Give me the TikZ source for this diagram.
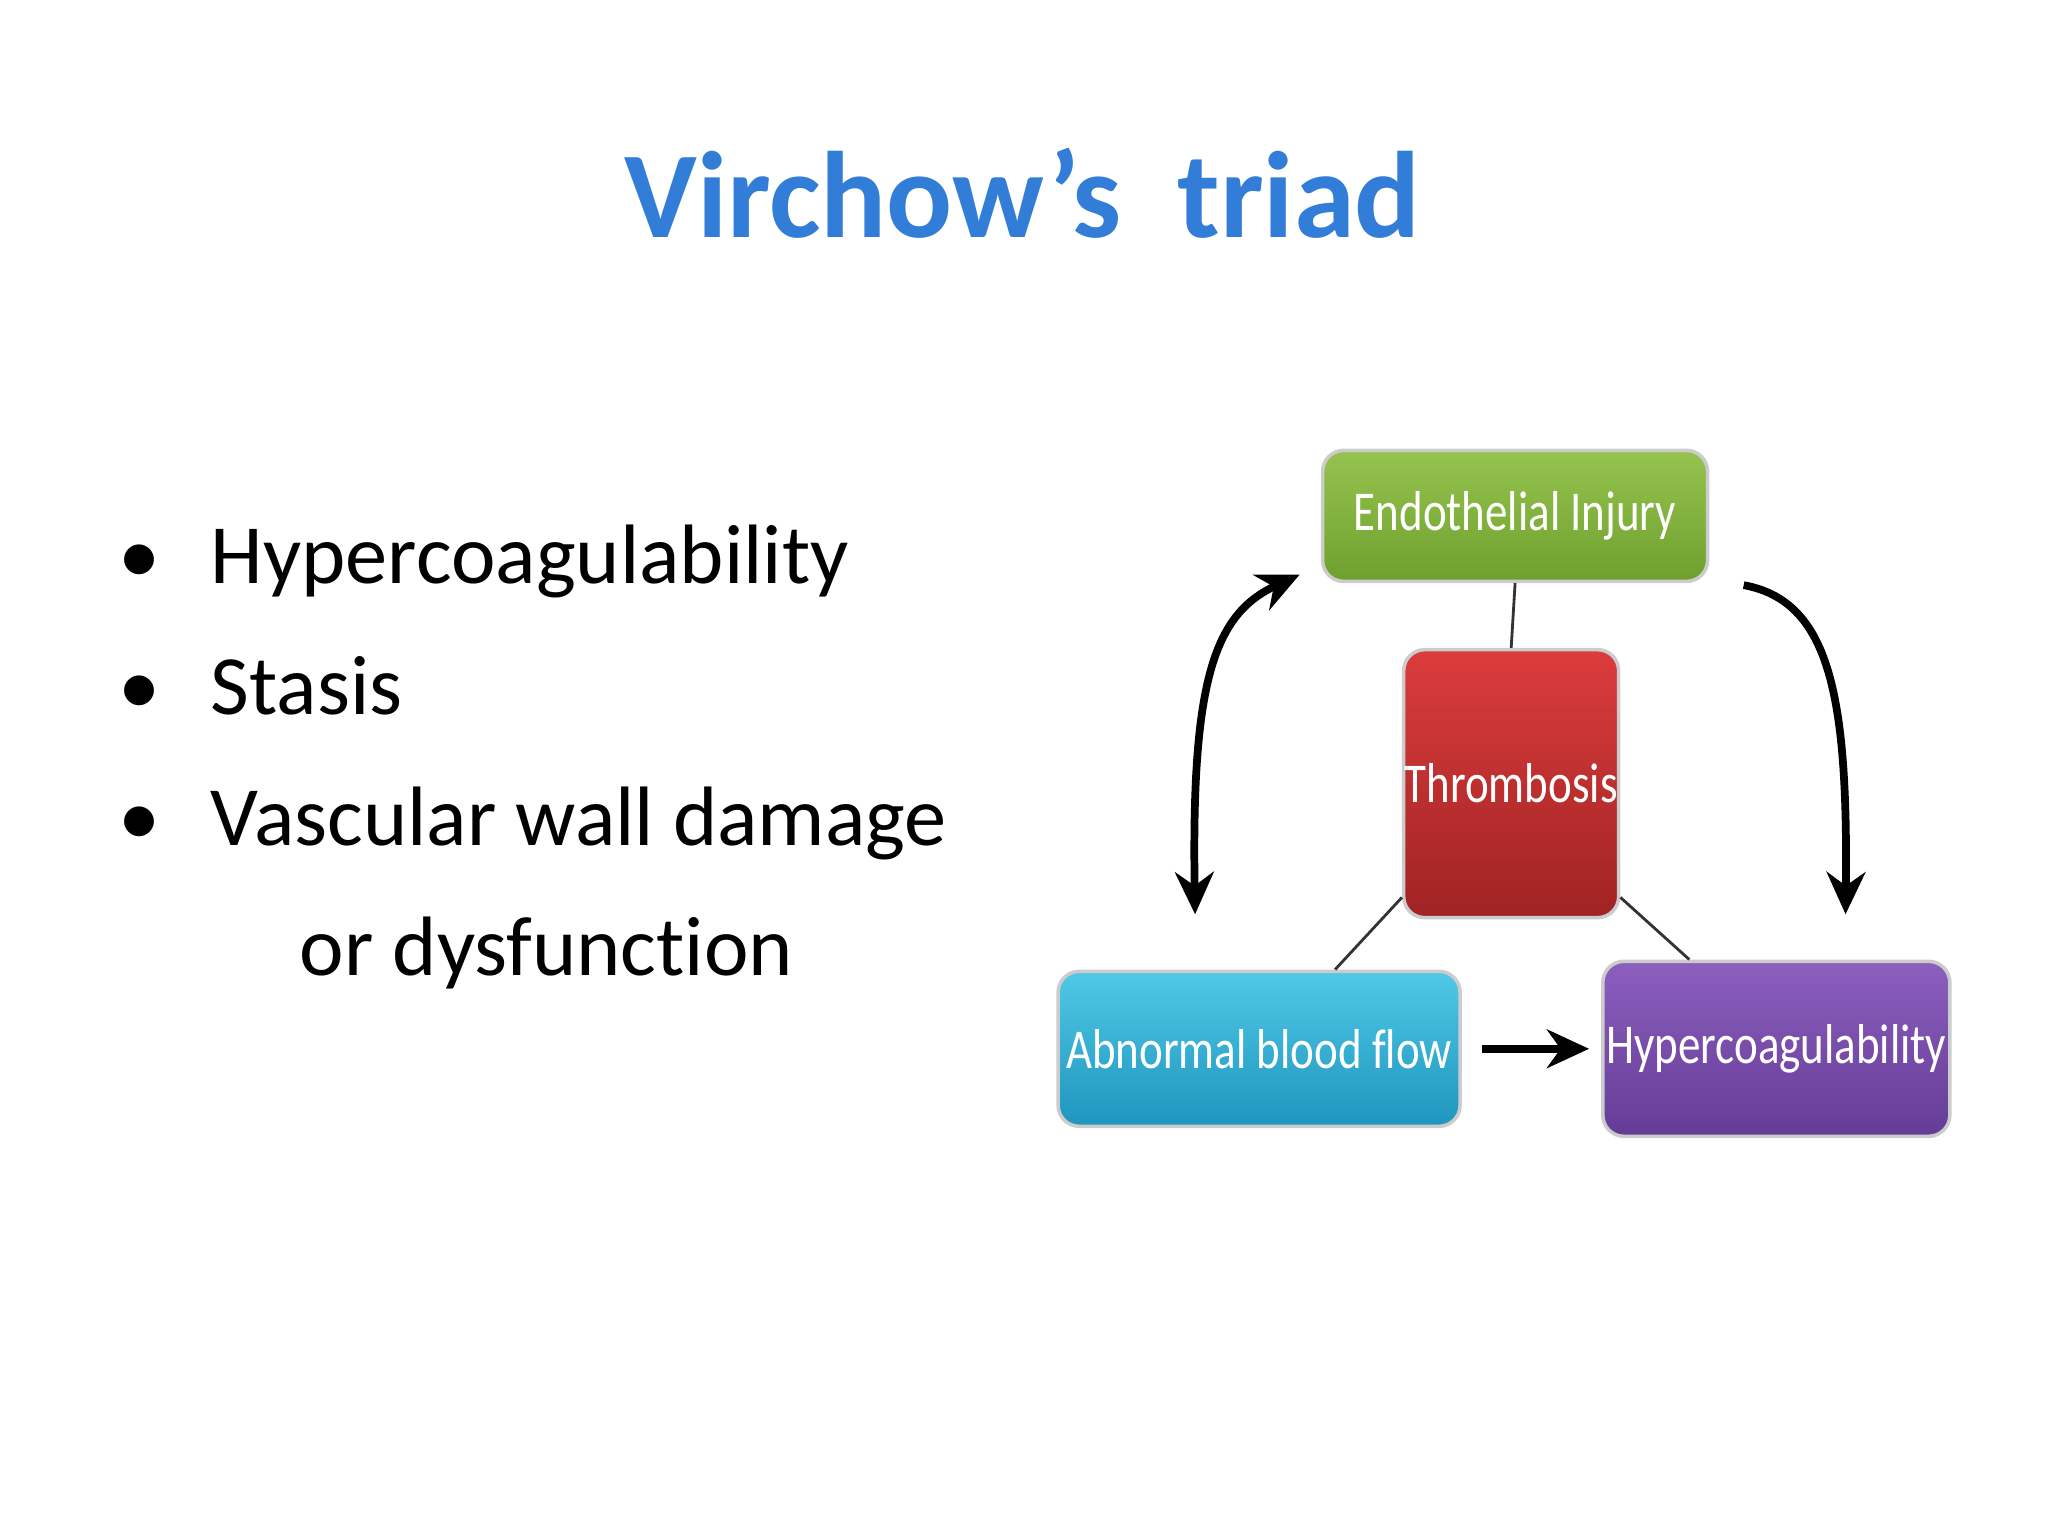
\documentclass[tikz,border=0pt]{standalone}
\usepackage{fontspec}
\setmainfont{Carlito}[Ligatures={NoCommon,NoRare}]
\usetikzlibrary{arrows.meta,calc}
\definecolor{ttl}{RGB}{50,125,215}
\definecolor{gt}{RGB}{150,195,80}\definecolor{gb}{RGB}{110,160,45}
\definecolor{rt}{RGB}{220,60,60}\definecolor{rb}{RGB}{160,35,35}
\definecolor{ct}{RGB}{80,200,230}\definecolor{cb}{RGB}{30,150,190}
\definecolor{pt}{RGB}{140,95,190}\definecolor{pb}{RGB}{100,60,150}
\tikzset{
 box/.style={rounded corners=6pt,draw=black!20,line width=1pt,text=white,font=\fontsize{16}{19}\selectfont,inner sep=0pt},
 con/.style={draw=black!80,line width=0.8pt},
 arr/.style={line width=2.2pt,-{Stealth[length=12pt,width=11pt]}},
 bul/.style={anchor=base west,font=\fontsize{24}{28}\selectfont},
 dot/.style={anchor=base,font=\fontsize{24}{28}\selectfont}
}
\begin{document}
\begin{tikzpicture}[x=0.01306cm,y=-0.01306cm]
\useasboundingbox (0,0) rectangle (1568,1176);
\node[text=ttl,font=\bfseries\fontsize{35}{40}\selectfont] (title) at (783,148) {Virchow’s\ \ triad};
\node[dot] (d1) at (107,447) {•};
\node[dot] (d2) at (107,547) {•};
\node[dot] (d3) at (107,647) {•};
\node[bul] (b1) at (152,447) {Hypercoagulability};
\node[bul] (b2) at (152,547) {Stasis};
\node[bul] (b3) at (152,647) {Vascular wall damage};
\node[bul] (b4) at (220,747) {or dysfunction};
\node[box,top color=gt,bottom color=gb,minimum width=3.85cm,minimum height=1.31cm] (endo) at (1160,395) {\scalebox{0.8}[1]{Endothelial Injury}};
\node[box,top color=rt,bottom color=rb,minimum width=2.15cm,minimum height=2.68cm] (thr) at (1157,600) {\scalebox{0.8}[1]{Thrombosis}};
\node[box,top color=ct,bottom color=cb,minimum width=4.02cm,minimum height=1.55cm] (abn) at (964,803) {\scalebox{0.8}[1]{Abnormal blood flow}};
\node[box,top color=pt,bottom color=pb,minimum width=3.47cm,minimum height=1.75cm] (hyp) at (1360,803) {\scalebox{0.8}[1]{Hypercoagulability}};
\draw[con] (endo.south) -- (thr.north);
\draw[con] ([yshift=0.22cm]thr.south west) -- ([xshift=0.76cm]abn.north);
\draw[con] ([yshift=0.22cm]thr.south east) -- ([xshift=-0.87cm]hyp.north);
\coordinate (la) at (915,700); \coordinate (lb) at (995,440);
\coordinate (ra) at (1335,448); \coordinate (rb) at (1413,700);
\draw[arr,{Stealth[length=12pt,width=11pt]}-{Stealth[length=12pt,width=11pt]}] (la) .. controls (912,520) and (930,470) .. (lb);
\draw[arr] (ra) .. controls (1400,460) and (1415,530) .. (rb);
\draw[arr] ([xshift=0.2cm]abn.east) -- ([xshift=-0.12cm]hyp.west);
\end{tikzpicture}
\end{document}
